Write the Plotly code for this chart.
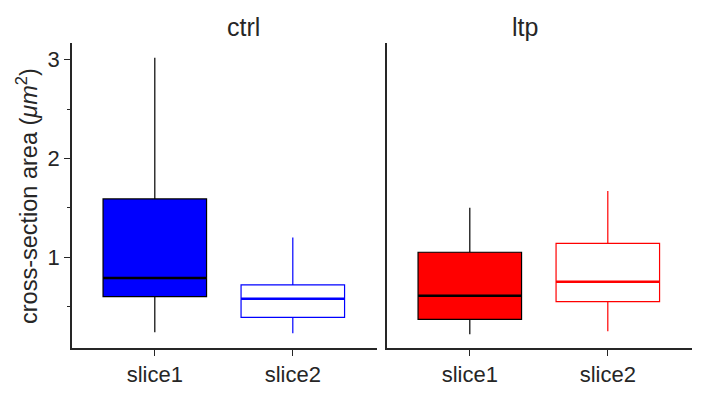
import plotly.graph_objects as go

# ---- data ----
categories = ["slice1", "slice2"]
panels = ["ctrl", "ltp"]

ctrl_lower = [0.24, 0.23]
ctrl_q1 = [0.60, 0.39]
ctrl_median = [0.79, 0.58]
ctrl_q3 = [1.59, 0.72]
ctrl_upper = [3.02, 1.20]

ltp_lower = [0.22, 0.25]
ltp_q1 = [0.37, 0.55]
ltp_median = [0.61, 0.75]
ltp_q3 = [1.05, 1.14]
ltp_upper = [1.50, 1.67]

y_ticks = [1, 2, 3]
y_minor_ticks = [0.5, 1.5, 2.5]

# ---- style ----
FONT = "Liberation Sans, Arial, sans-serif"
TXT = "#262626"
BOX_W = 0.75

styles = {
    "ctrl": [dict(fill="#0000ff", line="#000000", med="#000000"),
             dict(fill="#ffffff", line="#0000ff", med="#0000ff")],
    "ltp": [dict(fill="#ff0000", line="#000000", med="#000000"),
            dict(fill="#ffffff", line="#ff0000", med="#ff0000")],
}
data = {
    "ctrl": (ctrl_lower, ctrl_q1, ctrl_median, ctrl_q3, ctrl_upper),
    "ltp": (ltp_lower, ltp_q1, ltp_median, ltp_q3, ltp_upper),
}

fig = go.Figure()
axes = [("x", "y"), ("x2", "y2")]
for p, (xa, ya) in zip(panels, axes):
    lo, q1, med, q3, up = data[p]
    for i, cat in enumerate(categories):
        st = styles[p][i]
        fig.add_trace(go.Box(
            x=[i], lowerfence=[lo[i]], q1=[q1[i]], median=[med[i]],
            q3=[q3[i]], upperfence=[up[i]],
            width=BOX_W, whiskerwidth=0,
            fillcolor=st["fill"], line=dict(color=st["line"], width=1.2),
            boxpoints=False, showlegend=False, hoverinfo="skip",
            xaxis=xa, yaxis=ya, name=cat,
        ))
        # thicker median line
        fig.add_trace(go.Scatter(
            x=[i - BOX_W / 2, i + BOX_W / 2], y=[med[i], med[i]],
            mode="lines", line=dict(color=st["med"], width=2.5),
            showlegend=False, hoverinfo="skip", xaxis=xa, yaxis=ya,
        ))

# page body has an 8px margin, so work in (reference px - 8)
OFF = 8
W, H = 708 - OFF, 393 - OFF
dom1 = [(72 - OFF) / W, (377 - OFF) / W]
dom2 = [(387 - OFF) / W, (692 - OFF) / W]
ydom = [1 - (348 - OFF) / H, 1 - (43 - OFF) / H]
yrange = [0.08, 3.17]

xcommon = dict(
    range=[-0.6, 1.61], tickvals=[0, 1], ticktext=categories,
    showline=True, linecolor=TXT, linewidth=1.5, ticks="outside",
    ticklen=6, tickwidth=1.2, tickcolor=TXT, showgrid=False, zeroline=False,
    tickfont=dict(size=22, color=TXT, family=FONT),
)
fig.update_layout(
    width=W, height=H,
    margin=dict(l=0, r=0, t=0, b=0),
    plot_bgcolor="white", paper_bgcolor="white",
    font=dict(family=FONT, color=TXT),
    xaxis=dict(domain=dom1, anchor="y", **xcommon),
    xaxis2=dict(domain=dom2, anchor="y2", **xcommon),
    yaxis=dict(
        domain=ydom, anchor="x", range=yrange, tickvals=y_ticks,
        showline=True, linecolor=TXT, linewidth=1.5, ticks="outside",
        ticklen=6, tickwidth=1.2, tickcolor=TXT, showgrid=False, zeroline=False,
        tickfont=dict(size=22, color=TXT, family=FONT),
        minor=dict(tickvals=y_minor_ticks, ticks="outside", ticklen=3.5,
                   tickwidth=1, tickcolor=TXT),
    ),
    yaxis2=dict(
        domain=ydom, anchor="x2", range=yrange, matches="y",
        showline=True, linecolor=TXT, linewidth=1.5, ticks="",
        showticklabels=False, showgrid=False, zeroline=False,
    ),
    annotations=[
        dict(text=panels[0], x=(dom1[0] + dom1[1]) / 2, y=1 - (27 - OFF) / H,
             xref="paper", yref="paper", showarrow=False,
             font=dict(size=25, color=TXT, family=FONT), yanchor="middle"),
        dict(text=panels[1], x=(dom2[0] + dom2[1]) / 2, y=1 - (27 - OFF) / H,
             xref="paper", yref="paper", showarrow=False,
             font=dict(size=25, color=TXT, family=FONT), yanchor="middle"),
        dict(text="cross-section area (<i>μm</i><sup>2</sup>)",
             x=(27 - OFF) / W, y=1 - (196 - OFF) / H,
             xref="paper", yref="paper", showarrow=False, textangle=-90,
             xanchor="center", yanchor="middle",
             font=dict(size=23.5, color=TXT, family=FONT)),
    ],
)

fig.write_html("out.html")
